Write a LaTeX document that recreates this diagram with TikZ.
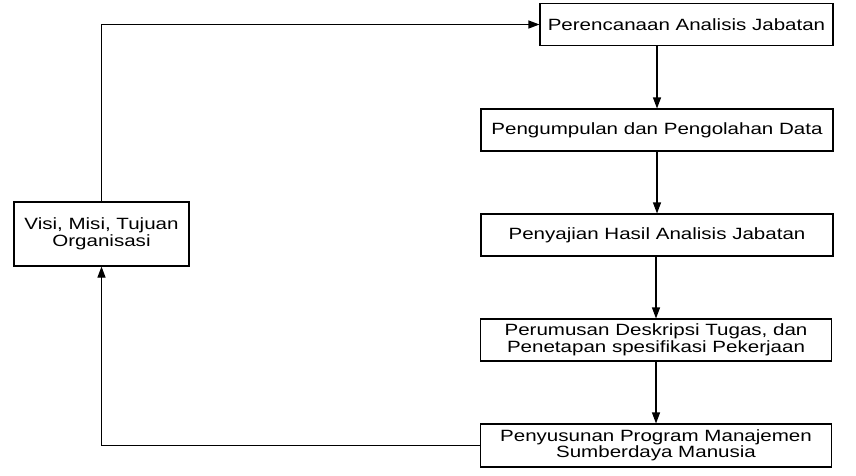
\documentclass[tikz,border=0pt]{standalone}
\usepackage{fontspec}
\setmainfont{Liberation Sans}[FakeStretch=1.26]
\usetikzlibrary{arrows.meta}

\begin{document}
\begin{tikzpicture}[x=1pt,y=-1pt,
  kotak/.style={draw, line width=1.1pt, inner sep=0pt, align=center,
    font=\fontsize{16.3}{16.5}\selectfont, minimum height=42pt},
  panah/.style={line width=1.1pt, -{Triangle[length=11pt,width=8pt]}}]
  \useasboundingbox (0,0) rectangle (856,475);
  \node [kotak, minimum width=293pt] (rencana) at (686.5,24.5) {Perencanaan Analisis Jabatan};
  \node [kotak, minimum width=352pt] (kumpul) at (657,130) {Pengumpulan dan Pengolahan Data};
  \node [kotak, minimum width=352pt] (saji) at (657,235) {Penyajian Hasil Analisis Jabatan};
  \node [kotak, minimum width=351pt] (rumus) at (656,340) {Perumusan Deskripsi Tugas, dan\\Penetapan spesifikasi Pekerjaan};
  \node [kotak, minimum width=351pt, minimum height=43pt] (susun) at (656,445.5) {Penyusunan Program Manajemen\\Sumberdaya Manusia};
  \node [kotak, minimum width=175pt, minimum height=64pt] (visi) at (101.5,234) {Visi, Misi, Tujuan\\Organisasi};
  \draw [panah] (rencana.south -| kumpul.north) -- (kumpul.north);
  \draw [panah] (kumpul) -- (saji);
  \draw [panah] (saji.south -| rumus.north) -- (rumus.north);
  \draw [panah] (rumus) -- (susun);
  \draw [panah] (visi.north) |- (rencana.west);
  \draw [panah] (susun.west) -| (visi.south);
\end{tikzpicture}
\end{document}
